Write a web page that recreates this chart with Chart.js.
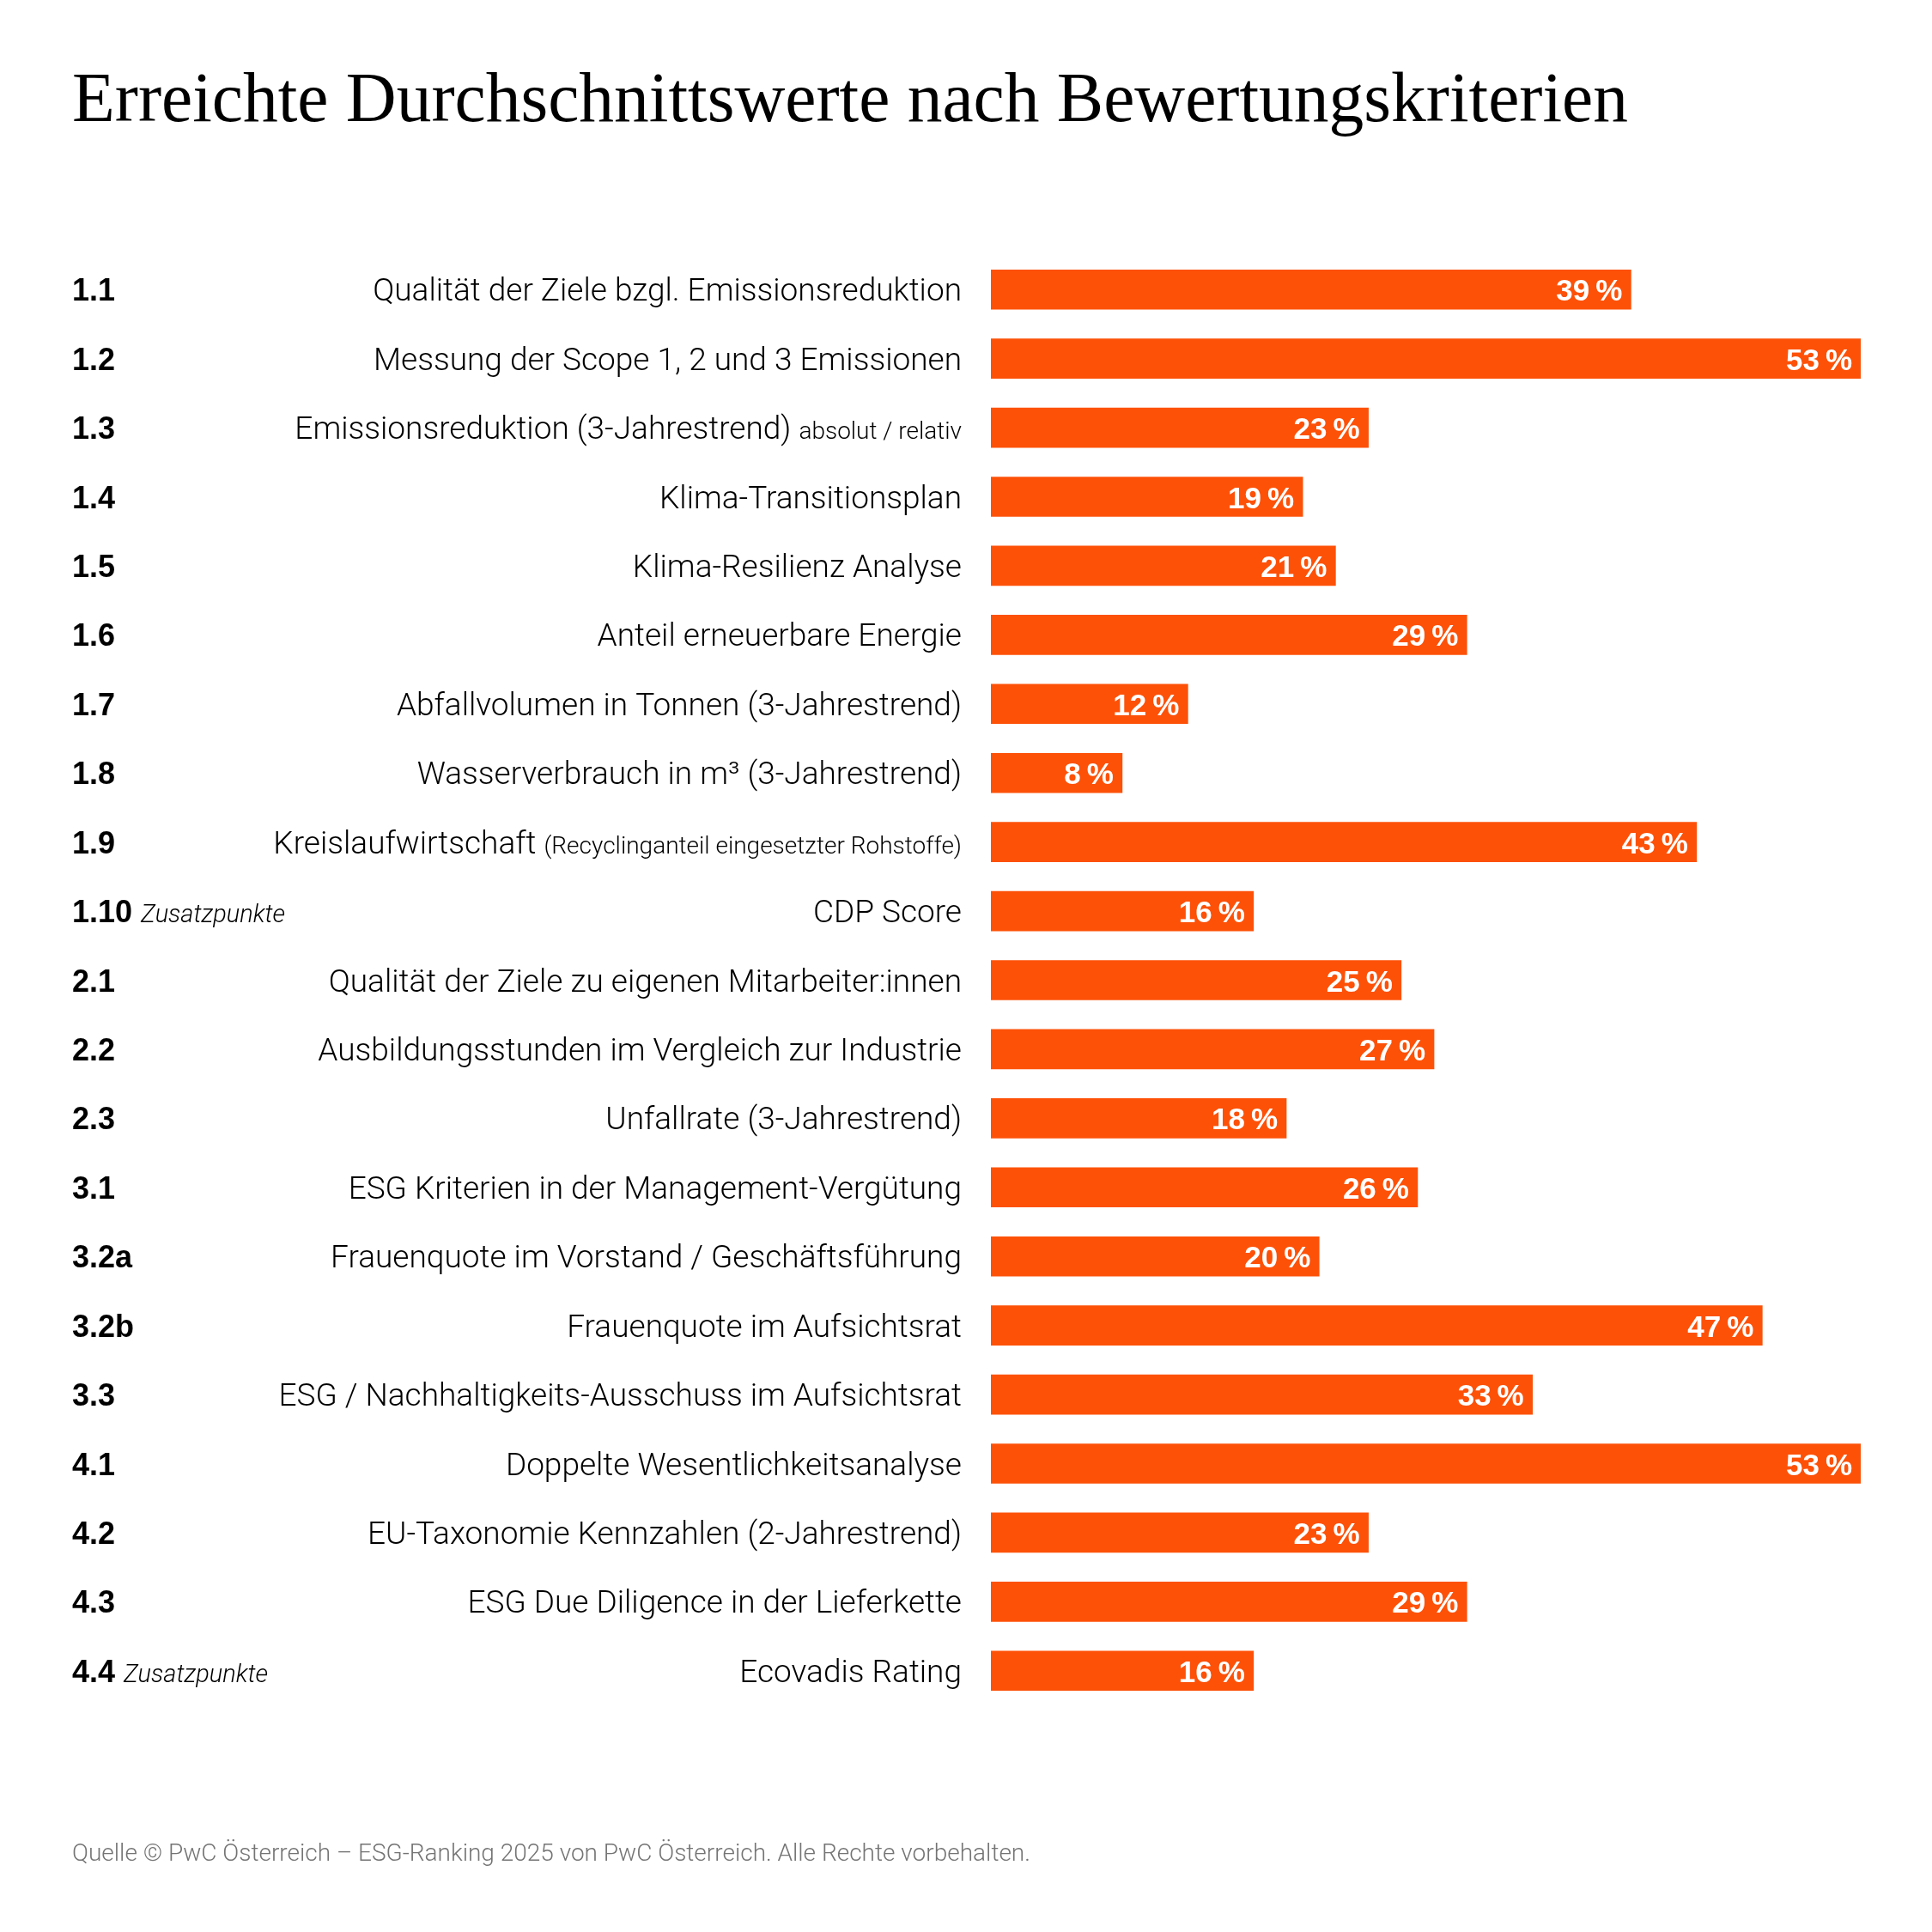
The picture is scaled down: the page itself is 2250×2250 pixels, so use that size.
<!DOCTYPE html>
<html lang="de">
<head>
<meta charset="utf-8">
<title>Erreichte Durchschnittswerte nach Bewertungskriterien</title>
<script src="https://cdn.jsdelivr.net/npm/chart.js@4.4.1/dist/chart.umd.min.js"></script>
<style>
  html, body { margin: 0; padding: 0; background: #ffffff; }
  #wrap { width: 2250px; height: 2250px; position: relative; }
</style>
</head>
<body>
<div id="wrap"><canvas id="grafico" width="2250" height="2250"></canvas></div>
<script>
const codes = ['1.1', '1.2', '1.3', '1.4', '1.5', '1.6', '1.7', '1.8', '1.9', '1.10',
  '2.1', '2.2', '2.3', '3.1', '3.2a', '3.2b', '3.3', '4.1', '4.2', '4.3', '4.4'];

const codeNotes = ['', '', '', '', '', '', '', '', '', 'Zusatzpunkte',
  '', '', '', '', '', '', '', '', '', '', 'Zusatzpunkte'];

const criteria = [
  'Qualität der Ziele bzgl. Emissionsreduktion',
  'Messung der Scope 1, 2 und 3 Emissionen',
  'Emissionsreduktion (3-Jahrestrend)',
  'Klima-Transitionsplan',
  'Klima-Resilienz Analyse',
  'Anteil erneuerbare Energie',
  'Abfallvolumen in Tonnen (3-Jahrestrend)',
  'Wasserverbrauch in m³ (3-Jahrestrend)',
  'Kreislaufwirtschaft',
  'CDP Score',
  'Qualität der Ziele zu eigenen Mitarbeiter:innen',
  'Ausbildungsstunden im Vergleich zur Industrie',
  'Unfallrate (3-Jahrestrend)',
  'ESG Kriterien in der Management-Vergütung',
  'Frauenquote im Vorstand / Geschäftsführung',
  'Frauenquote im Aufsichtsrat',
  'ESG / Nachhaltigkeits-Ausschuss im Aufsichtsrat',
  'Doppelte Wesentlichkeitsanalyse',
  'EU-Taxonomie Kennzahlen (2-Jahrestrend)',
  'ESG Due Diligence in der Lieferkette',
  'Ecovadis Rating'
];

const criteriaNotes = ['', '', 'absolut / relativ', '', '', '', '', '', '(Recyclinganteil eingesetzter Rohstoffe)', '',
  '', '', '', '', '', '', '', '', '', '', ''];

const werte = [39, 53, 23, 19, 21, 29, 12, 8, 43, 16, 25, 27, 18, 26, 20, 47, 33, 53, 23, 29, 16];

const titel = 'Erreichte Durchschnittswerte nach Bewertungskriterien';
const quelle = 'Quelle © PwC Österreich – ESG-Ranking 2025 von PwC Österreich. Alle Rechte vorbehalten.';

const ORANGE = '#fd5108';
const SANS_LIGHT = '300 37px Roboto, "Liberation Sans", sans-serif';

const textePlugin = {
  id: 'texte',
  afterDraw(chart) {
    const ctx = chart.ctx;
    const yScale = chart.scales.y;
    ctx.save();

    // Titel, auf Breite angepasst
    ctx.fillStyle = '#000000';
    ctx.textAlign = 'left';
    ctx.textBaseline = 'alphabetic';
    ctx.font = '100px "Liberation Serif", serif';
    const breite = ctx.measureText(titel).width;
    const groesse = 100 * 1812 / breite;
    ctx.font = groesse + 'px "Liberation Serif", serif';
    ctx.fillText(titel, 84, 141);

    // Zeilenbeschriftungen
    codes.forEach((code, i) => {
      const y = yScale.getPixelForValue(i) + 13;
      ctx.fillStyle = '#000000';
      ctx.textAlign = 'left';
      ctx.font = 'bold 36px "Liberation Sans", Arial, sans-serif';
      ctx.fillText(code, 84, y);
      if (codeNotes[i]) {
        const w = ctx.measureText(code + ' ').width;
        ctx.font = 'italic 300 29px Roboto, "Liberation Sans", sans-serif';
        ctx.fillText(codeNotes[i], 84 + w, y);
      }

      ctx.textAlign = 'right';
      let x = 1120;
      if (criteriaNotes[i]) {
        ctx.font = '300 28px Roboto, "Liberation Sans", sans-serif';
        ctx.fillText(criteriaNotes[i], x, y);
        x -= ctx.measureText(criteriaNotes[i]).width + 9;
      }
      ctx.font = SANS_LIGHT;
      ctx.fillText(criteria[i], x, y);
    });

    // Werte in den Balken
    const meta = chart.getDatasetMeta(0);
    ctx.fillStyle = '#ffffff';
    ctx.textAlign = 'right';
    ctx.font = 'bold 35px "Liberation Sans", Arial, sans-serif';
    meta.data.forEach((bar, i) => {
      ctx.fillText(werte[i] + '\u2009%', bar.x - 10, bar.y + 13);
    });

    // Quelle
    ctx.fillStyle = '#747474';
    ctx.textAlign = 'left';
    ctx.font = '300 28px Roboto, "Liberation Sans", sans-serif';
    ctx.fillText(quelle, 84, 2167);

    ctx.restore();
  }
};

const grafico = document.querySelector('#grafico');

const balken = new Chart(grafico, {
  type: 'bar',
  data: {
    labels: codes,
    datasets: [{
      label: 'Durchschnittswert',
      data: werte,
      backgroundColor: ORANGE,
      borderWidth: 0,
      barThickness: 46
    }]
  },
  options: {
    indexAxis: 'y',
    responsive: false,
    animation: false,
    events: [],
    layout: {
      padding: { left: 1154, right: 83, top: 297, bottom: 264 }
    },
    scales: {
      x: { display: false, min: 0, max: 53 },
      y: { display: false }
    },
    plugins: {
      legend: { display: false },
      tooltip: { enabled: false },
      title: { display: false }
    }
  },
  plugins: [textePlugin]
});
</script>
</body>
</html>
